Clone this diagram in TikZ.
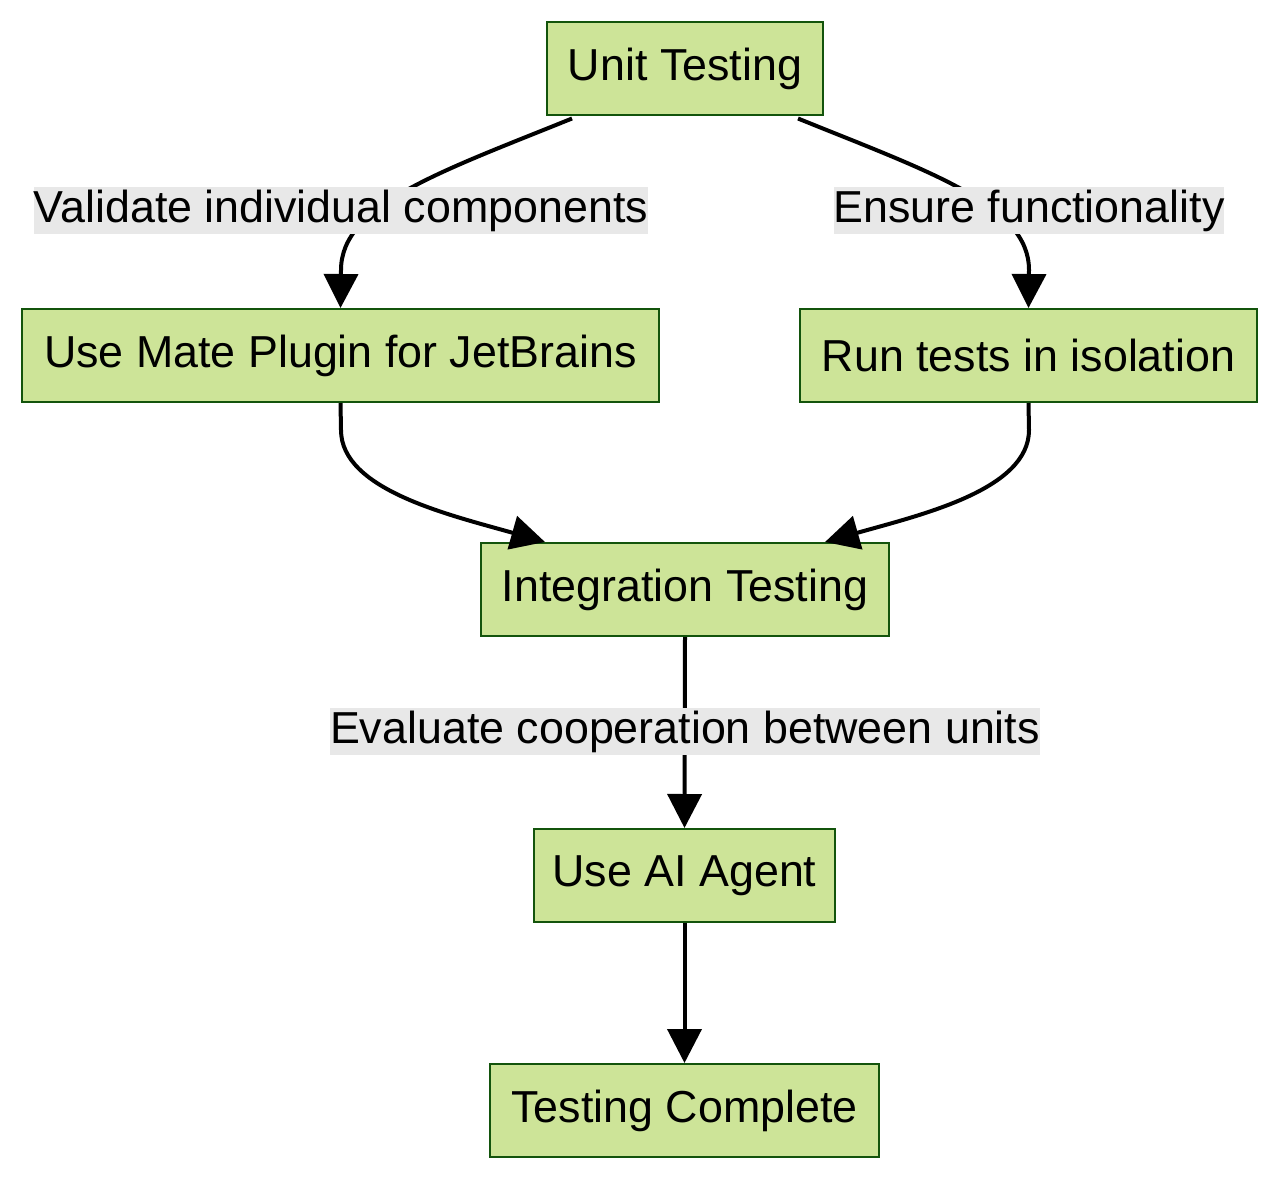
\documentclass[tikz,border=0pt]{standalone}
\usepackage{fontspec}
\setmainfont{Liberation Sans}
\usetikzlibrary{arrows.meta,calc}
\definecolor{boxfill}{HTML}{CDE498}
\definecolor{boxline}{HTML}{13540C}
\definecolor{lblbg}{HTML}{E8E8E8}
\begin{document}
\begin{tikzpicture}[x=1pt,y=-1pt,
  box/.style={draw=boxline,fill=boxfill,line width=2pt,minimum height=93pt,inner sep=0pt,font=\fontsize{44.8}{54}\selectfont},
  lbl/.style={fill=lblbg,inner sep=0pt,minimum height=47pt,font=\fontsize{44.8}{54}\selectfont},
  edge/.style={line width=4pt,-{Triangle[length=34pt,width=34pt]}}]
\useasboundingbox (0,0) rectangle (1280,1180);
\node[box,minimum width=276pt] (u) at (685,69) {Unit Testing};
\node[box,minimum width=637pt] (m) at (340.5,355.5) {Use Mate Plugin for JetBrains};
\node[box,minimum width=457pt] (r) at (1028.5,355.5) {Run tests in isolation};
\node[box,minimum width=408pt] (i) at (685,589.5) {Integration Testing};
\node[box,minimum width=301pt] (a) at (684.5,875.5) {Use AI Agent};
\node[box,minimum width=389pt] (c) at (684.5,1110.5) {Testing Complete};
\draw[edge] ($(u.south)+(-113,2)$) .. controls (440,172) and (341,205) .. (341,270) -- (m.north);
\draw[edge] ($(u.south)+(113,2)$) .. controls (930,172) and (1029,205) .. (1029,270) -- (r.north);
\node[lbl] (l1) at (341,210.5) {Validate individual components};
\node[lbl] (l2) at (1029,210.5) {Ensure functionality};
\draw[edge] (m.south) -- (341,430) .. controls (341,490) and (450,515) .. ($(i.north)+(-140,0)$);
\draw[edge] (r.south) -- (1029,430) .. controls (1029,490) and (920,515) .. ($(i.north)+(140,0)$);
\draw[edge] (i.south) -- (a.north);
\node[lbl] (l3) at (685,731.5) {Evaluate cooperation between units};
\draw[edge] (a.south) -- (c.north);
\end{tikzpicture}
\end{document}
